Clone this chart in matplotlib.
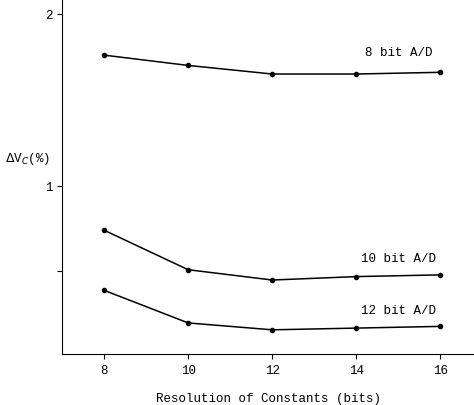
import matplotlib
matplotlib.use('Agg')
import matplotlib.pyplot as plt

bits = [8, 10, 12, 14, 16]
dv_8bit = [1.76, 1.70, 1.65, 1.65, 1.66]
dv_10bit = [0.74, 0.51, 0.45, 0.47, 0.48]
dv_12bit = [0.39, 0.20, 0.16, 0.17, 0.18]

plt.rcParams['font.family'] = ['Liberation Mono', 'DejaVu Sans Mono']

fig = plt.figure(figsize=(4.74, 4.06), dpi=100)
ax = fig.add_axes([0.131, 0.126, 0.869, 0.874])

for ys in (dv_8bit, dv_10bit, dv_12bit):
    ax.plot(bits, ys, color='black', lw=1.1, marker='o', ms=3)

ax.text(15.0, 1.76, '8 bit A/D', fontsize=9, ha='center')
ax.text(15.0, 0.56, '10 bit A/D', fontsize=9, ha='center')
ax.text(15.0, 0.26, '12 bit A/D', fontsize=9, ha='center')

ax.set_xlim(7.0, 16.8)
ax.set_ylim(0.02, 2.087)
ax.set_xticks([8, 10, 12, 14, 16])
ax.set_yticks([0.5, 1, 2])
ax.set_yticklabels(['', '1', '2'])
ax.tick_params(labelsize=9, direction='out')
ax.spines['top'].set_visible(False)
ax.spines['right'].set_visible(False)
ax.set_xlabel('Resolution of Constants (bits)', fontsize=9, labelpad=12)
fig.text(0.01, 0.60, r'$\Delta$V$_C$(%)', fontsize=9)

fig.savefig('out.png', dpi=100)
